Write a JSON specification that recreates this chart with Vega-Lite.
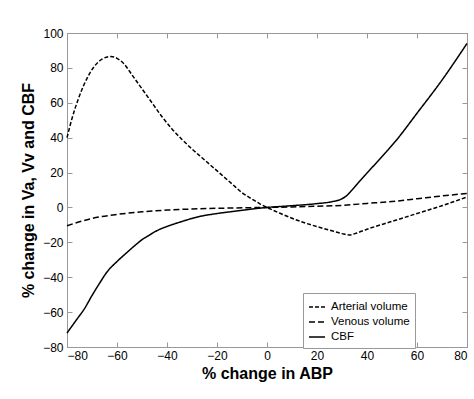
{
  "$schema": "https://vega.github.io/schema/vega-lite/v6.json",
  "autosize": "none",
  "width": 400,
  "height": 314,
  "padding": {"left": 67, "top": 33, "right": 7, "bottom": 52},
  "background": "white",
  "config": {
    "font": "Liberation Sans",
    "view": {"stroke": "#999", "strokeWidth": 1},
    "axis": {
      "domainColor": "#999",
      "tickColor": "#999",
      "grid": false,
      "labelColor": "black",
      "labelFontSize": 12,
      "titleFontSize": 16,
      "titleFontWeight": "bold",
      "titleColor": "black",
      "tickSize": -5
    }
  },
  "data": {
    "values": [
      {"series": "Arterial volume", "abp": -80, "v": 40},
      {"series": "Arterial volume", "abp": -78, "v": 51},
      {"series": "Arterial volume", "abp": -75, "v": 64},
      {"series": "Arterial volume", "abp": -72, "v": 74},
      {"series": "Arterial volume", "abp": -69, "v": 81},
      {"series": "Arterial volume", "abp": -66, "v": 85},
      {"series": "Arterial volume", "abp": -62.5, "v": 86.5},
      {"series": "Arterial volume", "abp": -60, "v": 85.5},
      {"series": "Arterial volume", "abp": -57, "v": 82},
      {"series": "Arterial volume", "abp": -54, "v": 76},
      {"series": "Arterial volume", "abp": -50, "v": 68},
      {"series": "Arterial volume", "abp": -46, "v": 60},
      {"series": "Arterial volume", "abp": -42, "v": 52},
      {"series": "Arterial volume", "abp": -38, "v": 45},
      {"series": "Arterial volume", "abp": -34, "v": 39},
      {"series": "Arterial volume", "abp": -30, "v": 33.5},
      {"series": "Arterial volume", "abp": -26, "v": 28.5},
      {"series": "Arterial volume", "abp": -22, "v": 23.5},
      {"series": "Arterial volume", "abp": -18, "v": 18.5},
      {"series": "Arterial volume", "abp": -14, "v": 13.5},
      {"series": "Arterial volume", "abp": -10, "v": 8.5},
      {"series": "Arterial volume", "abp": -6, "v": 4.8},
      {"series": "Arterial volume", "abp": -3, "v": 2.2},
      {"series": "Arterial volume", "abp": 0, "v": 0},
      {"series": "Arterial volume", "abp": 5, "v": -3.2},
      {"series": "Arterial volume", "abp": 10, "v": -6.2},
      {"series": "Arterial volume", "abp": 15, "v": -8.8},
      {"series": "Arterial volume", "abp": 20, "v": -11},
      {"series": "Arterial volume", "abp": 25, "v": -13},
      {"series": "Arterial volume", "abp": 30, "v": -15},
      {"series": "Arterial volume", "abp": 33, "v": -15.8},
      {"series": "Arterial volume", "abp": 36, "v": -14.6},
      {"series": "Arterial volume", "abp": 40, "v": -12.5},
      {"series": "Arterial volume", "abp": 50, "v": -8},
      {"series": "Arterial volume", "abp": 60, "v": -3.5},
      {"series": "Arterial volume", "abp": 70, "v": 1},
      {"series": "Arterial volume", "abp": 80, "v": 6},
      {"series": "Venous volume", "abp": -80, "v": -10.5},
      {"series": "Venous volume", "abp": -70, "v": -6.3},
      {"series": "Venous volume", "abp": -60, "v": -4},
      {"series": "Venous volume", "abp": -50, "v": -2.5},
      {"series": "Venous volume", "abp": -40, "v": -1.5},
      {"series": "Venous volume", "abp": -30, "v": -0.9},
      {"series": "Venous volume", "abp": -20, "v": -0.5},
      {"series": "Venous volume", "abp": -10, "v": -0.2},
      {"series": "Venous volume", "abp": 0, "v": 0},
      {"series": "Venous volume", "abp": 10, "v": 0.3},
      {"series": "Venous volume", "abp": 20, "v": 0.7},
      {"series": "Venous volume", "abp": 30, "v": 1.2},
      {"series": "Venous volume", "abp": 40, "v": 2.3},
      {"series": "Venous volume", "abp": 50, "v": 3.4},
      {"series": "Venous volume", "abp": 60, "v": 5},
      {"series": "Venous volume", "abp": 70, "v": 6.6},
      {"series": "Venous volume", "abp": 80, "v": 8},
      {"series": "CBF", "abp": -80, "v": -72},
      {"series": "CBF", "abp": -76, "v": -64},
      {"series": "CBF", "abp": -73, "v": -58},
      {"series": "CBF", "abp": -70, "v": -50.5},
      {"series": "CBF", "abp": -67, "v": -43.5},
      {"series": "CBF", "abp": -64, "v": -37},
      {"series": "CBF", "abp": -60, "v": -31},
      {"series": "CBF", "abp": -56, "v": -25.8},
      {"series": "CBF", "abp": -53, "v": -22},
      {"series": "CBF", "abp": -50, "v": -18.5},
      {"series": "CBF", "abp": -47, "v": -15.8},
      {"series": "CBF", "abp": -44, "v": -13.3},
      {"series": "CBF", "abp": -40, "v": -10.9},
      {"series": "CBF", "abp": -35, "v": -8.5},
      {"series": "CBF", "abp": -30, "v": -6.3},
      {"series": "CBF", "abp": -27, "v": -5.2},
      {"series": "CBF", "abp": -20, "v": -3.5},
      {"series": "CBF", "abp": -13, "v": -2.2},
      {"series": "CBF", "abp": -6, "v": -0.9},
      {"series": "CBF", "abp": 0, "v": 0},
      {"series": "CBF", "abp": 10, "v": 1},
      {"series": "CBF", "abp": 20, "v": 2.2},
      {"series": "CBF", "abp": 26, "v": 3.3},
      {"series": "CBF", "abp": 30, "v": 5},
      {"series": "CBF", "abp": 32, "v": 6.9},
      {"series": "CBF", "abp": 34, "v": 10},
      {"series": "CBF", "abp": 37, "v": 15},
      {"series": "CBF", "abp": 40, "v": 19.7},
      {"series": "CBF", "abp": 44, "v": 26},
      {"series": "CBF", "abp": 48.5, "v": 33.1},
      {"series": "CBF", "abp": 52, "v": 39},
      {"series": "CBF", "abp": 60, "v": 54},
      {"series": "CBF", "abp": 70, "v": 73},
      {"series": "CBF", "abp": 80, "v": 94}
    ]
  },
  "layer": [
    {
      "mark": {"type": "line", "color": "black", "strokeWidth": 1.5, "interpolate": "monotone"},
      "encoding": {
        "x": {
          "field": "abp", "type": "quantitative",
          "scale": {"domain": [-80, 80], "nice": false, "zero": false},
          "axis": {"values": [-80, -60, -40, -20, 0, 20, 40, 60, 80], "title": "% change in ABP", "labelPadding": 8, "titlePadding": 4}
        },
        "y": {
          "field": "v", "type": "quantitative",
          "scale": {"domain": [-80, 100], "nice": false, "zero": false},
          "axis": {"values": [-80, -60, -40, -20, 0, 20, 40, 60, 80, 100], "title": "% change in Va, Vv and CBF", "labelPadding": 9, "titlePadding": 6}
        },
        "strokeDash": {
          "field": "series", "type": "nominal",
          "scale": {"domain": ["Arterial volume", "Venous volume", "CBF"], "range": [[4, 2], [6, 3], [1, 0]]},
          "legend": {
            "title": null,
            "orient": "none",
            "legendX": 236,
            "legendY": 260,
            "direction": "vertical",
            "fillColor": "white",
            "strokeColor": "#999",
            "padding": 5,
            "symbolType": "stroke",
            "symbolSize": 256,
            "symbolStrokeWidth": 1.5,
            "symbolStrokeColor": "black",
            "labelFontSize": 11.5,
            "labelColor": "black",
            "rowPadding": -1,
            "labelOffset": 5
          }
        },
        "detail": {"field": "series"}
      }
    },
    {
      "mark": {"type": "line", "opacity": 0},
      "encoding": {
        "x": {
          "field": "abp", "type": "quantitative",
          "scale": {"domain": [-80, 80], "nice": false, "zero": false},
          "axis": {"orient": "top", "values": [-80, -60, -40, -20, 0, 20, 40, 60, 80], "labels": false, "title": null}
        },
        "y": {
          "field": "v", "type": "quantitative",
          "scale": {"domain": [-80, 100], "nice": false, "zero": false},
          "axis": {"orient": "right", "values": [-80, -60, -40, -20, 0, 20, 40, 60, 80, 100], "labels": false, "title": null}
        },
        "detail": {"field": "series"}
      }
    }
  ],
  "resolve": {"axis": {"x": "independent", "y": "independent"}}
}
